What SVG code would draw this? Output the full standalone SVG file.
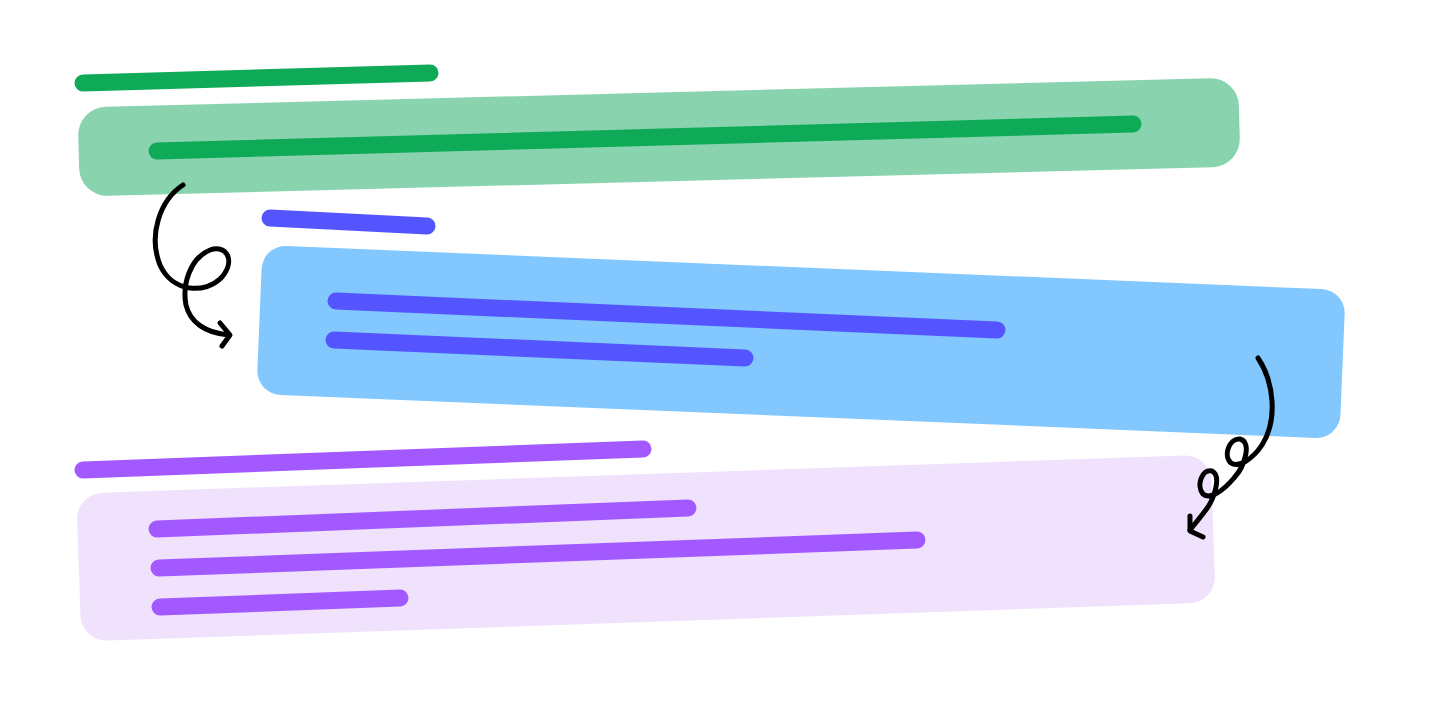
<svg xmlns="http://www.w3.org/2000/svg" width="1440" height="720" viewBox="0 0 1440 720">
<style>
.bar{fill:none;stroke-linecap:round;stroke-width:17}
.g{stroke:#0FAA58}.b{stroke:#5555FF}.p{stroke:#A259FF}
.conn{fill:none;stroke:#000;stroke-width:5;stroke-linecap:round;stroke-linejoin:round}
</style>
<rect width="1440" height="720" fill="#fff"/>
<g id="node-green">
<line class="bar g" x1="83" y1="83" x2="430" y2="73"/>
<rect x="78.5" y="92.5" width="1161" height="89" rx="28" fill="#89D4AE" transform="rotate(-1.48 659 137)"/>
<line class="bar g" x1="157" y1="151" x2="1133" y2="124"/>
</g>
<g id="node-blue">
<line class="bar b" x1="270" y1="218" x2="427" y2="226" stroke-width="16"/>
<rect x="259" y="267.5" width="1084" height="149" rx="24" fill="#82C8FF" transform="rotate(2.38 801 342)"/>
<line class="bar b" x1="336" y1="301" x2="997" y2="330"/>
<line class="bar b" x1="334" y1="340" x2="745" y2="358"/>
</g>
<g id="node-purple">
<line class="bar p" x1="83" y1="470" x2="643" y2="449"/>
<rect x="78.5" y="474" width="1135" height="148" rx="26" fill="#F0E2FD" transform="rotate(-1.97 646 549)"/>
<line class="bar p" x1="157" y1="529" x2="688" y2="508"/>
<line class="bar p" x1="159" y1="568" x2="917" y2="540"/>
<line class="bar p" x1="160" y1="607" x2="400" y2="598"/>
</g>
<g id="connectors">
<path class="conn" d="M183,185 C160,200 148,235 160,265 C172,292 205,295 222,277 C236,260 226,244 210,250 C190,258 182,285 186,305 C190,322 205,333 229,335"/>
<path class="conn" d="M220,323 L230,335 L222,346"/>
<path class="conn" d="M1258,358 C1274,382 1278,420 1262,445 C1252,460 1238,468 1231,463 C1223,456 1229,438 1240,439 C1252,442 1245,466 1234,478 C1223,491 1210,500 1203,494 C1196,486 1202,468 1212,471 C1222,476 1214,500 1205,511 C1199,519 1194,525 1190,530"/>
<path class="conn" d="M1190,516 L1190,531 L1203,537"/>
</g>
</svg>
